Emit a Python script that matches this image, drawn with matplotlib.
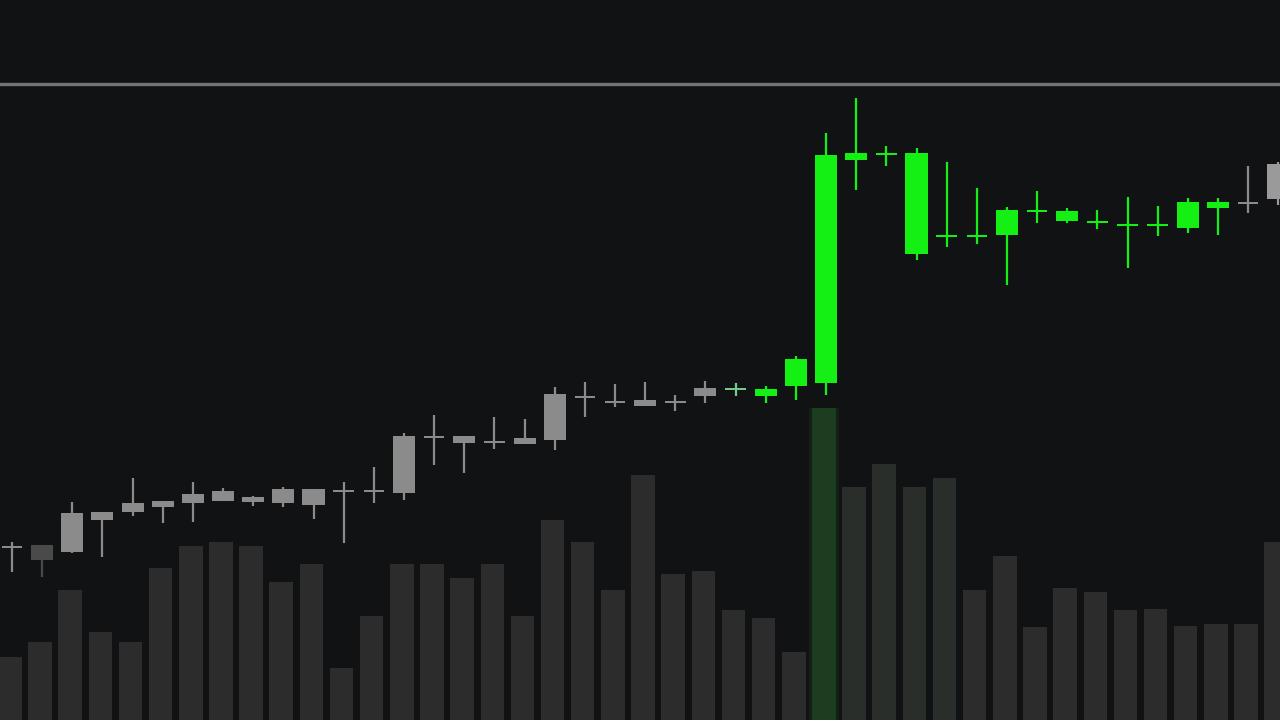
import matplotlib
matplotlib.use("Agg")
import matplotlib.pyplot as plt
import numpy as np

# ---- data (price units, volume units) ----
opens  = [1.73, 1.75, 1.68, 2.00, 2.08, 2.13, 2.17, 2.19, 2.18, 2.17,
          2.15, 2.29, 2.29, 2.27, 2.83, 2.77, 2.78, 2.76, 2.80, 3.23,
          3.18, 3.14, 3.18, 3.24, 3.31, 3.24, 3.34, 3.37, 5.60, 5.66,
          5.67, 4.84, 4.84, 4.85, 5.09, 4.99, 4.98, 4.95, 4.95, 4.92,
          5.12, 5.17, 5.21]
closes = [1.73, 1.60, 2.07, 2.08, 2.17, 2.19, 2.26, 2.29, 2.23, 2.31,
          2.31, 2.29, 2.29, 2.84, 2.83, 2.84, 2.78, 2.82, 3.26, 3.23,
          3.18, 3.20, 3.18, 3.32, 3.31, 3.31, 3.61, 5.65, 5.67, 5.66,
          4.66, 4.84, 4.84, 5.10, 5.09, 5.09, 4.98, 4.95, 4.95, 5.18,
          5.18, 5.17, 5.56]
highs  = [1.78, 1.75, 2.18, 2.08, 2.42, 2.19, 2.38, 2.32, 2.24, 2.33,
          2.31, 2.38, 2.53, 2.87, 3.05, 2.84, 3.03, 3.01, 3.33, 3.38,
          3.36, 3.38, 3.25, 3.39, 3.37, 3.34, 3.64, 5.87, 6.22, 5.74,
          5.72, 5.58, 5.32, 5.13, 5.29, 5.12, 5.10, 5.23, 5.14, 5.22,
          5.22, 5.54, 5.58]
lows   = [1.48, 1.43, 1.67, 1.63, 2.04, 1.97, 1.98, 2.19, 2.14, 2.13,
          2.01, 1.77, 2.17, 2.20, 2.55, 2.47, 2.71, 2.76, 2.70, 3.03,
          3.13, 3.14, 3.09, 3.17, 3.24, 3.17, 3.20, 3.25, 5.30, 5.54,
          4.60, 4.73, 4.76, 4.35, 4.97, 4.97, 4.91, 4.52, 4.84, 4.87,
          4.85, 5.07, 5.15]
volumes = [627, 783, 1300, 877, 783, 1523, 1740, 1783, 1740, 1377,
           1557, 523, 1043, 1557, 1557, 1417, 1560, 1040, 2000, 1783,
           1300, 2450, 1460, 1493, 1100, 1017, 683, 3117, 2333, 2557,
           2333, 2423, 1300, 1643, 933, 1317, 1283, 1100, 1107, 940,
           960, 960, 1777]
level_line = 6.36

# ---- styling ----
BG = "#111213"
GRAY = "#8b8b8b"
GREEN = "#14f014"
colors = ([GRAY] + ["#4a4a4a"] + [GRAY] * 22 + ["#74c98e"] + [GREEN] * 16
          + [GRAY, "#9a9a9a"])
vol_colors = ["#2c2c2c"] * len(volumes)
vol_colors[27] = "#1d3d20"
for k in (28, 29, 30, 31):
    vol_colors[k] = "#2a2e2b"

n = len(opens)
x = np.arange(n)
spacing_px = 30.15
x0 = -12 / spacing_px
x1 = x0 + 1280 / spacing_px

fig = plt.figure(figsize=(12.8, 7.2), dpi=100, facecolor=BG)
axv = fig.add_axes([0, 0, 1, 1])
axv.set_facecolor(BG)
axv.bar(x[27] - 0.07, volumes[27], width=1.0, color="#1a3a1c", alpha=0.35,
        zorder=1)
axv.bar(x - 0.07, volumes, width=0.78, color=vol_colors, zorder=2)
axv.set_xlim(x0, x1)
axv.set_ylim(0, 7200)
axv.axis("off")

ax = fig.add_axes([0, 0, 1, 1], sharex=axv)
ax.patch.set_alpha(0)
ax.set_xlim(x0, x1)
ax.set_ylim(0, 7.2)
ax.axis("off")

ax.axhline(level_line, color="#737373", lw=2.4, zorder=1)

min_h = 0.025
for i in range(n):
    o, c, h, l = opens[i], closes[i], highs[i], lows[i]
    col = colors[i]
    ax.vlines(x[i], l, h, color=col, lw=1.6, zorder=3)
    lo, hi = min(o, c), max(o, c)
    if hi - lo < min_h:
        mid = (hi + lo) / 2
        lo, hi = mid - min_h / 2, mid + min_h / 2
        w = 0.68
    else:
        w = 0.73
    ax.bar(x[i], hi - lo, bottom=lo, width=w, color=col, zorder=4,
           linewidth=0)

fig.savefig("out.png", dpi=100, facecolor=BG)
